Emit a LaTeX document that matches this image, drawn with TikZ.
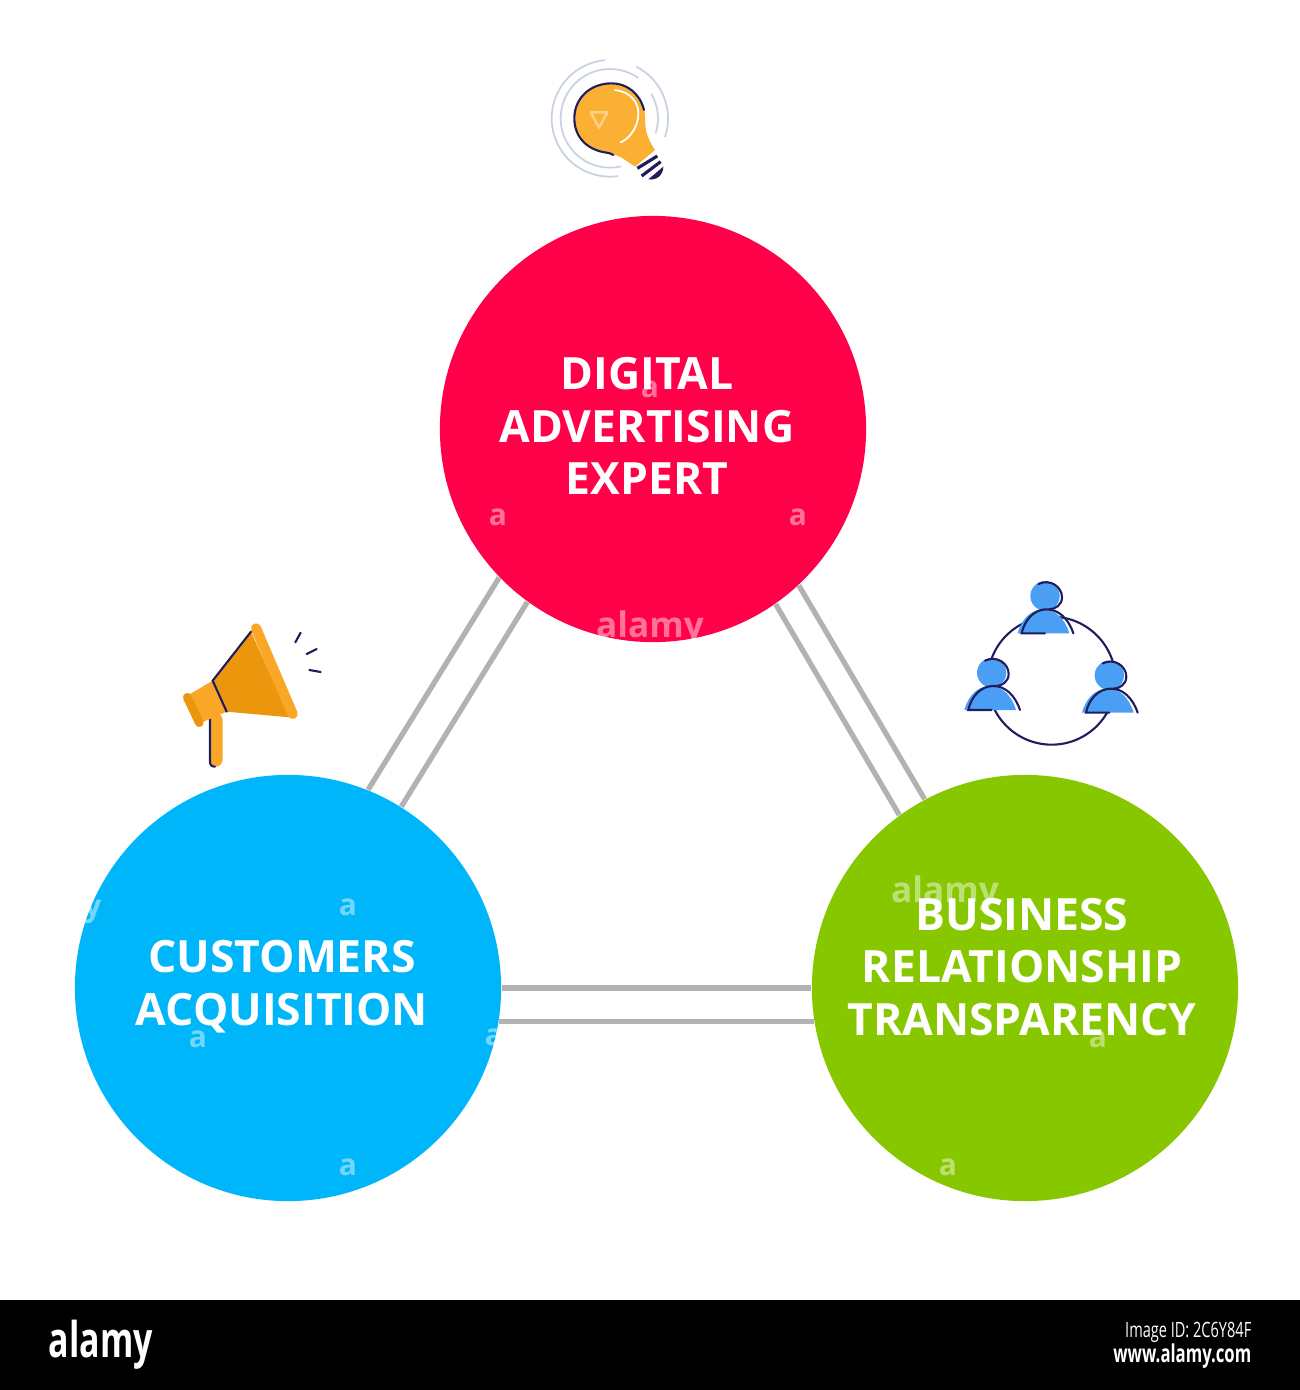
\documentclass[tikz,border=0pt]{standalone}
\usepackage{fontspec}
\setmainfont{Open Sans}
\definecolor{digitalred}{HTML}{FF0049}
\definecolor{customerblue}{HTML}{00B6FB}
\definecolor{businessgreen}{HTML}{87C700}
\definecolor{raylight}{HTML}{C9D1E2}
\definecolor{inkdark}{HTML}{1F1D5C}
\definecolor{bulbfill}{HTML}{FBB034}
\definecolor{hornlight}{HTML}{FAA727}
\definecolor{horndark}{HTML}{EC960E}
\definecolor{personblue}{HTML}{4A9FF5}
\tikzset{
  bigdisc/.style={circle,minimum size=4.26cm,inner sep=0pt},
  disctext/.style={text=white,align=center,font=\fontsize{12.65}{15}\selectfont\bfseries},
  railline/.style={draw=black!30,line width=1.5pt},
  inkline/.style={draw=inkdark,line width=.6pt,line cap=round},
  stamp/.style={text=white,opacity=.45,font=\fontsize{8.5}{9}\selectfont\bfseries},
  stampword/.style={text=white,opacity=.45,font=\fontsize{10}{11}\selectfont\bfseries},
}
\begin{document}
\begin{tikzpicture}[x=0.01cm,y=0.01cm,yscale=-1]
  \useasboundingbox (0,0) rectangle (1300,1390);
  \node[bigdisc,fill=digitalred] (digital) at (653,429) {};
  \node[bigdisc,fill=customerblue] (customers) at (288,988) {};
  \node[bigdisc,fill=businessgreen] (business) at (1025,988) {};
  \node[disctext] (digitaltext) at (647,426) {DIGITAL\\ADVERTISING\\EXPERT};
  \node[disctext] (customerstext) at (282,987) {CUSTOMERS\\ACQUISITION};
  \node[disctext] (businesstext) at (1022,967) {BUSINESS\\RELATIONSHIP\\TRANSPARENCY};
  \draw[railline] (digital.224) -- (customers.68.7);
  \draw[railline] (digital.234.3) -- (customers.58.4);
  \draw[railline] (digital.-47.3) -- (business.118.2);
  \draw[railline] (digital.-55.9) -- (business.126.8);
  \draw[railline] (customers.0) -- (business.180);
  \draw[railline] (customers.-9.2) -- (business.189.2);
  \foreach \i/\px/\py in {1/650/389,2/498/517,3/798/517,4/348/907,5/198/1039,6/348/1167,7/948/1167,8/1098/1039,9/494/1037}
    \node[stamp] (mark\i) at (\px,\py) {a};
  \node[stampword] (markred) at (650,628) {alamy};
  \node[stampword] (markgreen) at (945,893) {alamy};
  \node[stamp] (markblue) at (93,912) {y};
  \begin{scope}[shift={(530,50)},scale=1/3]
    \foreach \ra/\rb/\rr in {-95/-278/175,-55/-283/148,-63/19/174,-31/18/144}
      \draw[raylight,line width=.5pt] (240,205) ++(\ra:\rr) arc[start angle=\ra,end angle=\rb,radius=\rr];
    \fill[bulbfill] (315,350) .. controls (285,330) and (270,315) .. (230,308) .. controls (170,300) and (133,260) .. (133,205) .. controls (133,145) and (180,100) .. (245,100) .. controls (310,100) and (345,150) .. (345,205) .. controls (345,245) and (355,270) .. (375,300) -- cycle;
    \draw[inkline] (250,315) .. controls (240,310) and (235,308) .. (230,308) .. controls (170,300) and (133,260) .. (133,205) .. controls (133,145) and (180,100) .. (245,100) .. controls (290,100) and (330,130) .. (342,180);
    \draw[white,line width=.5pt,line cap=round] (255,120) .. controls (300,125) and (325,155) .. (325,190) .. controls (325,230) and (300,265) .. (272,277);
    \draw[white!40!bulbfill,line width=.7pt,line join=round] (182,187) -- (232,187) -- (207,233) -- cycle;
    \draw[inkdark,line width=.9pt] (322,355) -- (382,318) (335,378) -- (392,335);
    \fill[inkdark] (355,388) -- (400,350) .. controls (400,375) and (380,392) .. (355,388) -- cycle;
  \end{scope}
  \begin{scope}[shift={(170,610)},scale=1/3]
    \fill[hornlight,rounded corners=2pt] (120,310) -- (158,310) -- (158,470) -- (120,470) -- cycle;
    \draw[inkline] (120,325) -- (120,455) .. controls (120,465) and (125,470) .. (135,470);
    \fill[horndark] (243,65) -- (128,212) -- (170,305) -- (360,322) -- cycle;
    \fill[hornlight] (128,212) -- (55,255) -- (90,340) -- (170,305) -- cycle;
    \draw[hornlight,line width=2.9pt,line cap=round] (258,55) -- (368,312);
    \draw[horndark,line width=2.5pt,line cap=round] (52,262) -- (88,338);
    \draw[inkline] (243,65) -- (128,212) -- (170,305);
    \draw[inkline] (392,68) -- (376,97) (440,117) -- (410,132) (418,180) -- (452,186);
  \end{scope}
  \begin{scope}[shift={(950,570)},scale=1/3]
    \draw[inkline] (305,332) circle (192);
    \foreach \dx/\dy in {0/0,-160/230,193/238} {
      \begin{scope}[shift={(\dx,\dy)}]
        \fill[personblue] (285,78) circle (44);
        \fill[personblue] (203,190) .. controls (215,145) and (245,118) .. (280,118) .. controls (315,118) and (345,145) .. (358,190) -- cycle;
        \draw[inkline] (265,42) .. controls (300,25) and (336,50) .. (336,82) .. controls (336,105) and (315,118) .. (298,118);
        \draw[inkline] (285,190) -- (215,190) .. controls (225,145) and (255,118) .. (290,118) .. controls (325,118) and (355,145) .. (370,190);
      \end{scope}
    }
  \end{scope}
  \fill[black] (0,1300) rectangle (1300,1390);
  \node[text=white,inner sep=0pt,font=\fontsize{14}{14}\selectfont\bfseries] (logo) at (101,1345) {\scalebox{.69}[1]{alamy}};
  \node[text=white,inner sep=0pt,anchor=east,font=\fontsize{6}{7}\selectfont] (imageid) at (1252,1332) {\scalebox{.69}[1]{Image ID: 2C6Y84F}};
  \node[text=white,inner sep=0pt,anchor=east,font=\fontsize{7}{8}\selectfont\bfseries] (website) at (1252,1356) {\scalebox{.68}[1]{www.alamy.com}};
\end{tikzpicture}
\end{document}
